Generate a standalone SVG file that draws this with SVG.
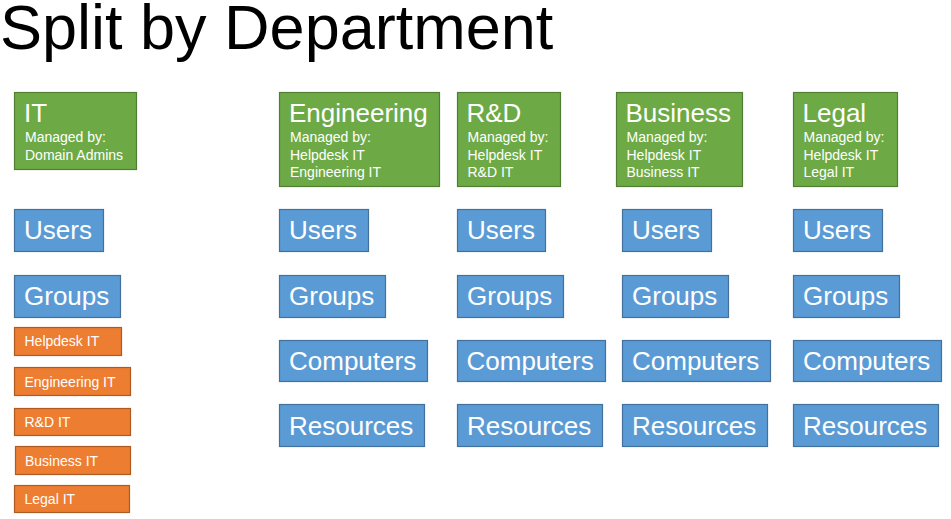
<svg xmlns="http://www.w3.org/2000/svg" width="951" height="519" viewBox="0 0 951 519">
<style>
text{font-family:"Liberation Sans",Arial,sans-serif;}
.title{font-size:63px;fill:#000;}
.g{fill:#6DAA45;stroke:#507E32;stroke-width:1.2;}
.b{fill:#5B9BD5;stroke:#41719C;stroke-width:1.2;}
.o{fill:#ED7D31;stroke:#AE5A21;stroke-width:1.2;}
.big{font-size:26px;fill:#fff;}
.sm{font-size:14px;fill:#fff;}
</style>
<rect width="951" height="519" fill="#fff"/>
<text class="title" x="0" y="49">Split by Department</text>

<g id="it">
<rect class="g" x="14.5" y="92.5" width="122" height="77"/>
<text class="big" x="24" y="122">IT</text>
<text class="sm" x="25" y="142.3">Managed by:</text>
<text class="sm" x="25" y="159.7">Domain Admins</text>
</g>
<g id="it-users"><rect class="b" x="14.5" y="209.5" width="89" height="42"/><text class="big" x="24" y="239">Users</text></g>
<g id="it-groups"><rect class="b" x="14.5" y="275.5" width="106" height="42"/><text class="big" x="24" y="305">Groups</text></g>
<g id="grp-helpdesk"><rect class="o" x="14.5" y="327.5" width="107" height="28"/><text class="sm" x="24.5" y="346">Helpdesk IT</text></g>
<g id="grp-eng"><rect class="o" x="14.5" y="367.5" width="116" height="28"/><text class="sm" x="24.5" y="386.5">Engineering IT</text></g>
<g id="grp-rd"><rect class="o" x="14.5" y="408.5" width="116" height="27"/><text class="sm" x="24.5" y="427">R&amp;D IT</text></g>
<g id="grp-bus"><rect class="o" x="15.5" y="446.5" width="115" height="28"/><text class="sm" x="25" y="465.5">Business IT</text></g>
<g id="grp-legal"><rect class="o" x="14.5" y="485.5" width="115" height="27"/><text class="sm" x="24.5" y="504">Legal IT</text></g>

<g id="eng">
<rect class="g" x="279.5" y="92.5" width="160" height="94"/>
<text class="big" x="289" y="122">Engineering</text>
<text class="sm" x="290" y="142.3">Managed by:</text>
<text class="sm" x="290" y="159.7">Helpdesk IT</text>
<text class="sm" x="290" y="177.2">Engineering IT</text>
</g>
<g id="eng-users"><rect class="b" x="279.5" y="209.5" width="89" height="42"/><text class="big" x="289" y="239">Users</text></g>
<g id="eng-groups"><rect class="b" x="279.5" y="275.5" width="106" height="42"/><text class="big" x="289" y="305">Groups</text></g>
<g id="eng-computers"><rect class="b" x="279.5" y="340.5" width="148" height="41"/><text class="big" x="289" y="370">Computers</text></g>
<g id="eng-resources"><rect class="b" x="279.5" y="404.5" width="145" height="42"/><text class="big" x="289" y="434.5">Resources</text></g>

<g id="rd">
<rect class="g" x="457.5" y="92.5" width="103" height="94"/>
<text class="big" x="466.5" y="122">R&amp;D</text>
<text class="sm" x="467.5" y="142.3">Managed by:</text>
<text class="sm" x="467.5" y="159.7">Helpdesk IT</text>
<text class="sm" x="467.5" y="177.2">R&amp;D IT</text>
</g>
<g id="rd-users"><rect class="b" x="457.5" y="209.5" width="88" height="42"/><text class="big" x="467" y="239">Users</text></g>
<g id="rd-groups"><rect class="b" x="457.5" y="275.5" width="106" height="42"/><text class="big" x="467" y="305">Groups</text></g>
<g id="rd-computers"><rect class="b" x="457.5" y="340.5" width="148" height="41"/><text class="big" x="466.5" y="370">Computers</text></g>
<g id="rd-resources"><rect class="b" x="457.5" y="404.5" width="145" height="42"/><text class="big" x="467" y="434.5">Resources</text></g>

<g id="business">
<rect class="g" x="616.5" y="92.5" width="126" height="94"/>
<text class="big" x="625.5" y="122">Business</text>
<text class="sm" x="626.5" y="142.3">Managed by:</text>
<text class="sm" x="626.5" y="159.7">Helpdesk IT</text>
<text class="sm" x="626.5" y="177.2">Business IT</text>
</g>
<g id="bus-users"><rect class="b" x="622.5" y="209.5" width="89" height="42"/><text class="big" x="632" y="239">Users</text></g>
<g id="bus-groups"><rect class="b" x="622.5" y="275.5" width="106" height="42"/><text class="big" x="632" y="305">Groups</text></g>
<g id="bus-computers"><rect class="b" x="622.5" y="340.5" width="148" height="41"/><text class="big" x="632" y="370">Computers</text></g>
<g id="bus-resources"><rect class="b" x="622.5" y="404.5" width="145" height="42"/><text class="big" x="632" y="434.5">Resources</text></g>

<g id="legal">
<rect class="g" x="793.5" y="92.5" width="104" height="94"/>
<text class="big" x="802.5" y="122">Legal</text>
<text class="sm" x="803.5" y="142.3">Managed by:</text>
<text class="sm" x="803.5" y="159.7">Helpdesk IT</text>
<text class="sm" x="803.5" y="177.2">Legal IT</text>
</g>
<g id="legal-users"><rect class="b" x="793.5" y="209.5" width="89" height="42"/><text class="big" x="803" y="239">Users</text></g>
<g id="legal-groups"><rect class="b" x="793.5" y="275.5" width="106" height="42"/><text class="big" x="803" y="305">Groups</text></g>
<g id="legal-computers"><rect class="b" x="793.5" y="340.5" width="148" height="41"/><text class="big" x="803" y="370">Computers</text></g>
<g id="legal-resources"><rect class="b" x="793.5" y="404.5" width="145" height="42"/><text class="big" x="803" y="434.5">Resources</text></g>

<g id="connectors"></g>
</svg>
